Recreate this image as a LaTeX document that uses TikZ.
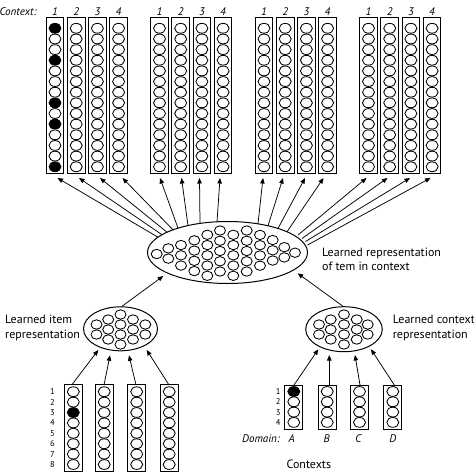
\documentclass[tikz,border=0pt]{standalone}
\usepackage{fontspec}
\setmainfont{PT Sans}
\usetikzlibrary{shapes.geometric,arrows.meta}
\begin{document}
\begin{tikzpicture}[x=1pt,y=-1pt,
  colbox/.style={draw,line width=1pt,inner sep=0pt,rectangle},
  unit/.style={draw,ellipse,line width=0.85pt,inner sep=0pt,minimum width=12pt,minimum height=9.8pt},
  sunit/.style={unit,minimum width=11pt,minimum height=9.4pt},
  blob/.style={draw,ellipse,line width=1pt,inner sep=0pt},
  arr/.style={-{Triangle[length=5.5pt,width=4.5pt]},line width=0.75pt},
  lab/.style={font=\fontsize{12}{14.3}\selectfont,align=left,inner sep=0pt},
  itl/.style={font=\fontsize{11}{12}\selectfont\itshape,inner sep=0pt},
  rownum/.style={font=\fontsize{8.5}{10}\selectfont,inner sep=0pt}]
\useasboundingbox (0,0) rectangle (474,474);

% ---- top output columns ----
\node[itl,anchor=east] (ctx) at (36.7,11.5) {Context:};
\foreach \g in {1,...,4}{
  \foreach \c in {1,...,4}{
    \pgfmathsetmacro\cx{55+104.5*(\g-1)+21.2*(\c-1)}
    \node[colbox,minimum width=17.6pt,minimum height=156pt] (t\g\c) at (\cx,95.4) {};
    \node[itl] (tn\g\c) at (\cx,11.5) {\c};
    \foreach \r in {1,...,14}{
      \node[unit] (t\g\c r\r) at (\cx,{28.3+10.65*(\r-1)}) {};
    }
  }
}
\foreach \r in {1,4,8,10,14}{
  \fill (t11r\r.center) ellipse [x radius=6pt, y radius=4.9pt];
}

% ---- big hidden layer ----
\node[blob,minimum width=160pt,minimum height=62pt] (big) at (227.5,252.5) {};
\foreach \x/\cy/\n [count=\k] in {156.7/254/1,168.3/253.5/2,181/255.3/3,194.3/255.7/4,
   207.3/255.3/5,220/251/5,233.3/255.3/5,246.7/251/5,260/250.3/4,272.7/250.3/3,
   284.3/252.3/2,295/252.7/1}{
  \foreach \i in {1,...,\n}{
    \node[sunit] (b\k-\i) at (\x,{\cy+10.25*(\i-(\n+1)/2)}) {};
  }
}

% ---- arrows to top columns ----
\foreach \g/\c/\sx/\sy/\ex in {
  1/1/158/237.2/57.5, 1/2/162/234.7/79, 1/3/167/232.2/100, 1/4/173/229.8/122.5,
  2/1/178/228.1/160, 2/2/188/225.5/181.5, 2/3/200/223.4/199.5, 2/4/217/221.8/220,
  3/1/258/223.8/263, 3/2/268/225.8/283, 3/3/278/228.5/305, 3/4/287/231.8/323.5,
  4/1/298/235/366.5, 4/2/302/238.5/387.5, 4/3/305.5/241.5/410, 4/4/307.5/245/430.5}{
  \coordinate (s\g\c) at (\sx,\sy);
  \coordinate (e\g\c) at (\ex,178);
  \draw[arr] (s\g\c) -- (e\g\c);
}
\node[lab,anchor=west] (lrc) at (322,259) {Learned representation\\of tem in context};

% ---- item representation ----
\node[blob,minimum width=74pt,minimum height=44pt] (item) at (120.5,328.8) {};
\foreach \dx/\n [count=\k] in {-24/2,-12.3/3,0/4,12.5/3,24.8/2}{
  \foreach \i in {1,...,\n}{
    \node[sunit] (it\k-\i) at ({120.5+\dx},{329.5+10*(\i-(\n+1)/2)}) {};
  }
}
\node[lab,anchor=west] (lir) at (5,328) {Learned item\\representation};

% ---- context representation ----
\node[blob,minimum width=76.6pt,minimum height=45pt] (cont) at (344,329.2) {};
\foreach \dx/\n [count=\k] in {-25/2,-13.3/3,0/4,12.7/3,23.7/2}{
  \foreach \i in {1,...,\n}{
    \node[sunit] (ct\k-\i) at ({344+\dx},{329.5+10*(\i-(\n+1)/2)}) {};
  }
}
\node[lab,anchor=west] (lcr) at (392.7,328) {Learned context\\representation};

% ---- arrows hidden reps to big ----
\coordinate (itop) at (121.7,306.5);
\coordinate (bl) at (163.3,276);
\coordinate (ctop) at (343.3,306.5);
\coordinate (br) at (297.7,273.3);
\draw[arr] (itop) -- (bl);
\draw[arr] (ctop) -- (br);

% ---- item input columns ----
\foreach \cx [count=\k] in {73.3,104.2,136.7,169.2}{
  \node[colbox,minimum width=18pt,minimum height=86.7pt] (i\k) at (\cx,428.3) {};
  \foreach \r in {1,...,8}{
    \node[unit] (i\k r\r) at (\cx,{391.7+10.4*(\r-1)}) {};
  }
}
\fill (i1r3.center) ellipse [x radius=6pt, y radius=4.9pt];
\foreach \r in {1,...,8}{
  \node[rownum] (inum\r) at (52.5,{391.7+10.4*(\r-1)}) {\r};
}
\foreach \k/\sx/\ex/\ey in {1/71.7/98.3/350, 2/104/110/355.3, 3/136/129/355.3, 4/169/146.7/350}{
  \coordinate (is\k) at (\sx,385);
  \coordinate (ie\k) at (\ex,\ey);
  \draw[arr] (is\k) -- (ie\k);
}

% ---- context input columns ----
\foreach \cx/\L [count=\k] in {293.8/A,327.2/B,359.5/C,392.8/D}{
  \node[colbox,minimum width=17.7pt,minimum height=44pt] (c\k) at (\cx,407) {};
  \foreach \r in {1,...,4}{
    \node[unit] (c\k r\r) at (\cx,{391.5+10.3*(\r-1)}) {};
  }
}
\fill (c1r1.center) ellipse [x radius=6pt, y radius=4.9pt];
\foreach \r in {1,...,4}{
  \node[rownum] (cnum\r) at (278.3,{391.5+10.3*(\r-1)}) {\r};
}
\foreach \k/\sx/\ex/\ey in {1/294/318.3/349.3, 2/329.3/329.3/355, 3/360/355/355, 4/394.3/371/349.3}{
  \coordinate (cs\k) at (\sx,385);
  \coordinate (ce\k) at (\ex,\ey);
  \draw[arr] (cs\k) -- (ce\k);
}
\node[itl,anchor=east] (dom) at (280,438.5) {Domain:};
\foreach \x/\L in {291.7/A,326.7/B,358.3/C,392.7/D}{
  \node[itl] (d\L) at (\x,438.5) {\L};
}
\node[lab] (ctxs) at (308.8,464) {Contexts};
\end{tikzpicture}
\end{document}
